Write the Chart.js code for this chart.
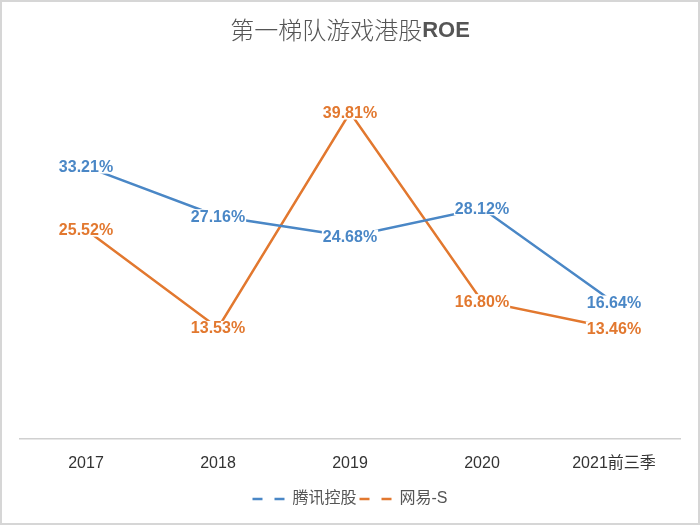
<!DOCTYPE html>
<html>
<head>
<meta charset="utf-8">
<script src="https://cdn.jsdelivr.net/npm/chart.js@4"></script>
<style>
    html, body { margin: 0; padding: 0; background: #fff; }
    #wrap { width: 700px; height: 525px; }
</style>
</head>
<body>
<div id="wrap"><canvas id="roeChart" width="700" height="525"></canvas></div>
<script>
const years = ['2017', '2018', '2019', '2020', '2021前三季'];
const tencent = [33.21, 27.16, 24.68, 28.12, 16.64];
const netease = [25.52, 13.53, 39.81, 16.80, 13.46];

const BLUE = '#4a87c6';
const ORANGE = '#e2782f';
const LABEL_FONT = 'bold 16px "Liberation Sans", Arial, sans-serif';
const CJK = '"Liberation Sans", "Noto Sans CJK SC", sans-serif';

// TITLE + BORDER
const framePlugin = {
    id: 'frame',
    beforeDraw(chart) {
        const c = chart.ctx;
        c.save();
        c.fillStyle = '#fff';
        c.fillRect(0, 0, chart.width, chart.height);
        c.strokeStyle = '#d6d6d6';
        c.lineWidth = 2;
        c.strokeRect(1, 1, chart.width - 2, chart.height - 2);
        c.restore();
    },
    afterDraw(chart) {
        const c = chart.ctx;
        c.save();
        const part1 = '第一梯队游戏港股';
        const part2 = 'ROE';
        c.textBaseline = 'middle';
        c.font = '300 24px "Noto Sans CJK SC", sans-serif';
        const w1 = c.measureText(part1).width;
        c.font = 'bold 22px "Liberation Sans", Arial, sans-serif';
        const w2 = c.measureText(part2).width;
        let x = chart.width / 2 - (w1 + w2) / 2;
        c.fillStyle = '#555';
        c.textAlign = 'left';
        c.font = '300 24px "Noto Sans CJK SC", sans-serif';
        c.fillText(part1, x, 30);
        c.font = 'bold 22px "Liberation Sans", Arial, sans-serif';
        c.fillText(part2, x + w1, 31);
        c.restore();
    }
};

// DATA LABELS WITH WHITE BACKGROUND
const labelPlugin = {
    id: 'valueLabels',
    afterDatasetsDraw(chart) {
        const c = chart.ctx;
        c.save();
        c.font = LABEL_FONT;
        c.textAlign = 'center';
        c.textBaseline = 'middle';
        chart.data.datasets.forEach((ds, i) => {
            const meta = chart.getDatasetMeta(i);
            meta.data.forEach((pt, j) => {
                const text = ds.data[j].toFixed(2) + '%';
                const w = c.measureText(text).width;
                c.fillStyle = '#fff';
                c.fillRect(pt.x - w / 2 - 1, pt.y - 7, w + 2, 14);
                c.fillStyle = ds.borderColor;
                c.fillText(text, pt.x, pt.y + 1);
            });
        });
        c.restore();
    }
};

const ctx = document.getElementById('roeChart');

new Chart(ctx, {
    type: 'line',
    data: {
        labels: years,
        datasets: [{
            label: '腾讯控股',
            data: tencent,
            borderColor: BLUE,
            backgroundColor: BLUE,
            borderWidth: 2.5,
            pointRadius: 0,
            tension: 0
        }, {
            label: '网易-S',
            data: netease,
            borderColor: ORANGE,
            backgroundColor: ORANGE,
            borderWidth: 2.5,
            pointRadius: 0,
            tension: 0
        }]
    },
    options: {
        responsive: false,
        animation: false,
        layout: {
            padding: { top: 70, left: 20, right: 20, bottom: 8 }
        },
        scales: {
            x: {
                offset: true,
                grid: { display: false, drawTicks: false },
                border: { display: true, color: '#d0d0d0', width: 1.5 },
                ticks: {
                    color: '#333',
                    padding: 15,
                    font: { family: CJK, size: 16 }
                }
            },
            y: {
                display: false,
                min: 0,
                max: 45
            }
        },
        plugins: {
            tooltip: { enabled: false },
            legend: {
                position: 'bottom',
                labels: {
                    usePointStyle: true,
                    pointStyle: 'line',
                    pointStyleWidth: 32,
                    boxHeight: 15,
                    padding: 3,
                    color: '#555',
                    font: { family: CJK, size: 16 },
                    generateLabels(chart) {
                        return chart.data.datasets.map((ds, i) => ({
                            text: ds.label,
                            fillStyle: ds.borderColor,
                            strokeStyle: ds.borderColor,
                            fontColor: '#555',
                            lineWidth: 2.5,
                            lineDash: [10, 12],
                            pointStyle: 'line',
                            datasetIndex: i,
                            hidden: false
                        }));
                    }
                }
            }
        }
    },
    plugins: [framePlugin, labelPlugin]
});
</script>
</body>
</html>
